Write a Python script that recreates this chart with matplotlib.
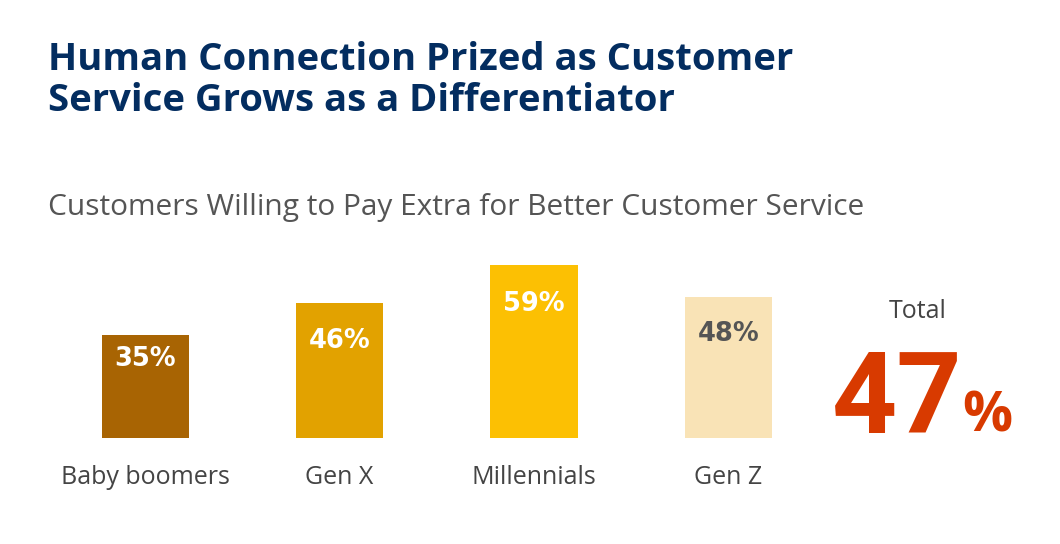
import matplotlib.pyplot as plt

# data
categories = ['Baby boomers', 'Gen X', 'Millennials', 'Gen Z']
values = [35, 46, 59, 48]
total = 47

bar_colors = ['#A86403', '#E2A200', '#FCC003', '#F9E3B6']
label_colors = ['white', 'white', 'white', '#555555']
label_offsets_px = [24, 38, 39, 37]

W, H = 1060, 544
fig = plt.figure(figsize=(W / 100, H / 100), dpi=100)
fig.patch.set_facecolor('white')


def fx(px):
    return px / W


def fy(py):
    return 1 - py / H


# bars: x=0 at 145px, spacing 194.5px, bottom at 438px, 2.93px per %
spacing = 194.5
ax = fig.add_axes([fx(145 - spacing / 2), fy(438), fx(4 * spacing), 205 / H])
ax.set_xlim(-0.5, 3.5)
ax.set_ylim(0, 205 / 2.93)
ax.axis('off')

xs = range(len(categories))
ax.bar(xs, values, width=87 / spacing, color=bar_colors)
for x, v, c, off in zip(xs, values, label_colors, label_offsets_px):
    ax.annotate(f'{v}%', (x, v), xytext=(0, -off * 0.72), textcoords='offset points',
                ha='center', va='center', color=c, fontsize=18.5,
                fontweight='bold', family='DejaVu Sans')
    ax.annotate(categories[x], (x, 0), xytext=(0, -39 * 0.72), textcoords='offset points',
                ha='center', va='center', color='#444444', fontsize=18,
                family='Open Sans', annotation_clip=False)

# titles
fig.text(fx(48), fy(60), 'Human Connection Prized as Customer', fontsize=27.5,
         fontweight='bold', color='#032D60', family='Open Sans', va='center')
fig.text(fx(48), fy(101), 'Service Grows as a Differentiator', fontsize=27.5,
         fontweight='bold', color='#032D60', family='Open Sans', va='center')
fig.text(fx(48), fy(208), 'Customers Willing to Pay Extra for Better Customer Service',
         fontsize=21.5, color='#555555', family='Open Sans', va='center')

# total
fig.text(fx(918), fy(312), 'Total', fontsize=18, color='#444444',
         family='Open Sans', ha='center', va='center')
fig.text(fx(963), fy(433), f'{total}', fontsize=82, fontweight='bold',
         color='#D83A00', family='Roboto', ha='right', va='baseline')
fig.text(fx(962), fy(431), '%', fontsize=40, fontweight='bold',
         color='#D83A00', family='Open Sans', ha='left', va='baseline')

plt.savefig('out.png', dpi=100, facecolor='white')
